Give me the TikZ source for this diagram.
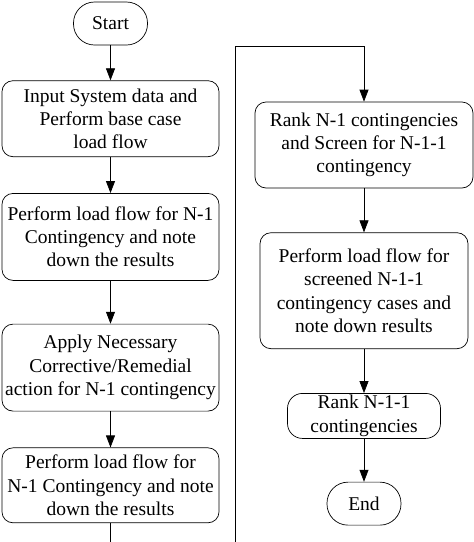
\documentclass[tikz,border=0pt]{standalone}
\usepackage{fontspec}
\setmainfont{Liberation Serif}
\newfontfamily\boxfont{Liberation Serif}
\usetikzlibrary{positioning,arrows.meta}

\begin{document}
\begin{tikzpicture}[
        x=1pt, y=1pt,
        >={Triangle[length=12pt,width=9pt]},
        proc/.style={draw, align=center, rounded corners=11pt, inner sep=2pt, line width=0.7pt, font=\boxfont\fontsize{19.5}{23.3}\selectfont},
        term/.style={proc, rounded corners=21pt, minimum width=74pt, minimum height=43pt},
        link/.style={->, line width=0.7pt}
      ]
      \useasboundingbox (0,0) rectangle (474,-542);

      \node (Start) [term] at (110.5,-23.5) {Start};
      \node (Input) [node distance=35pt, below=of Start, proc, minimum width=217pt, minimum height=76pt] {Input System data and\\Perform base case\\load flow};
      \node (LF1) [node distance=36pt, below=of Input, proc, minimum width=217pt, minimum height=87pt] {Perform load flow for N-1\\Contingency and note\\down the results};
      \node (Act) [node distance=43pt, below=of LF1, proc, minimum width=217pt, minimum height=87pt] {Apply Necessary\\Corrective/Remedial\\action for N-1 contingency};
      \node (LF2) [node distance=36pt, below=of Act, proc, minimum width=217pt, minimum height=75pt] {Perform load flow for\\N-1 Contingency and note\\down the results};

      \node (Rank) [proc, minimum width=218pt, minimum height=86pt] at (364,-145) {Rank N-1 contingencies\\and Screen for N-1-1\\contingency};
      \node (LF3) [node distance=44pt, below=of Rank, proc, minimum width=208pt, minimum height=116pt] {Perform load flow for\\screened N-1-1\\contingency cases and\\note down results};
      \node (Rank2) [node distance=44pt, below=of LF3, proc, rounded corners=15pt, minimum width=153pt, minimum height=44pt] {Rank N-1-1\\contingencies};
      \node (End) [node distance=43pt, below=of Rank2, term] {End};

      \coordinate (turn) at (235,-46);

      \draw[link] (Start) -- (Input);
      \draw[link] (Input) -- (LF1);
      \draw[link] (LF1) -- (Act);
      \draw[link] (Act) -- (LF2);
      \draw[link] (LF2.south) -- ++(0,-40) -| (turn) -| (Rank.north);
      \draw[link] (Rank) -- (LF3);
      \draw[link] (LF3) -- (Rank2);
      \draw[link] (Rank2) -- (End);

    \end{tikzpicture}
\end{document}
